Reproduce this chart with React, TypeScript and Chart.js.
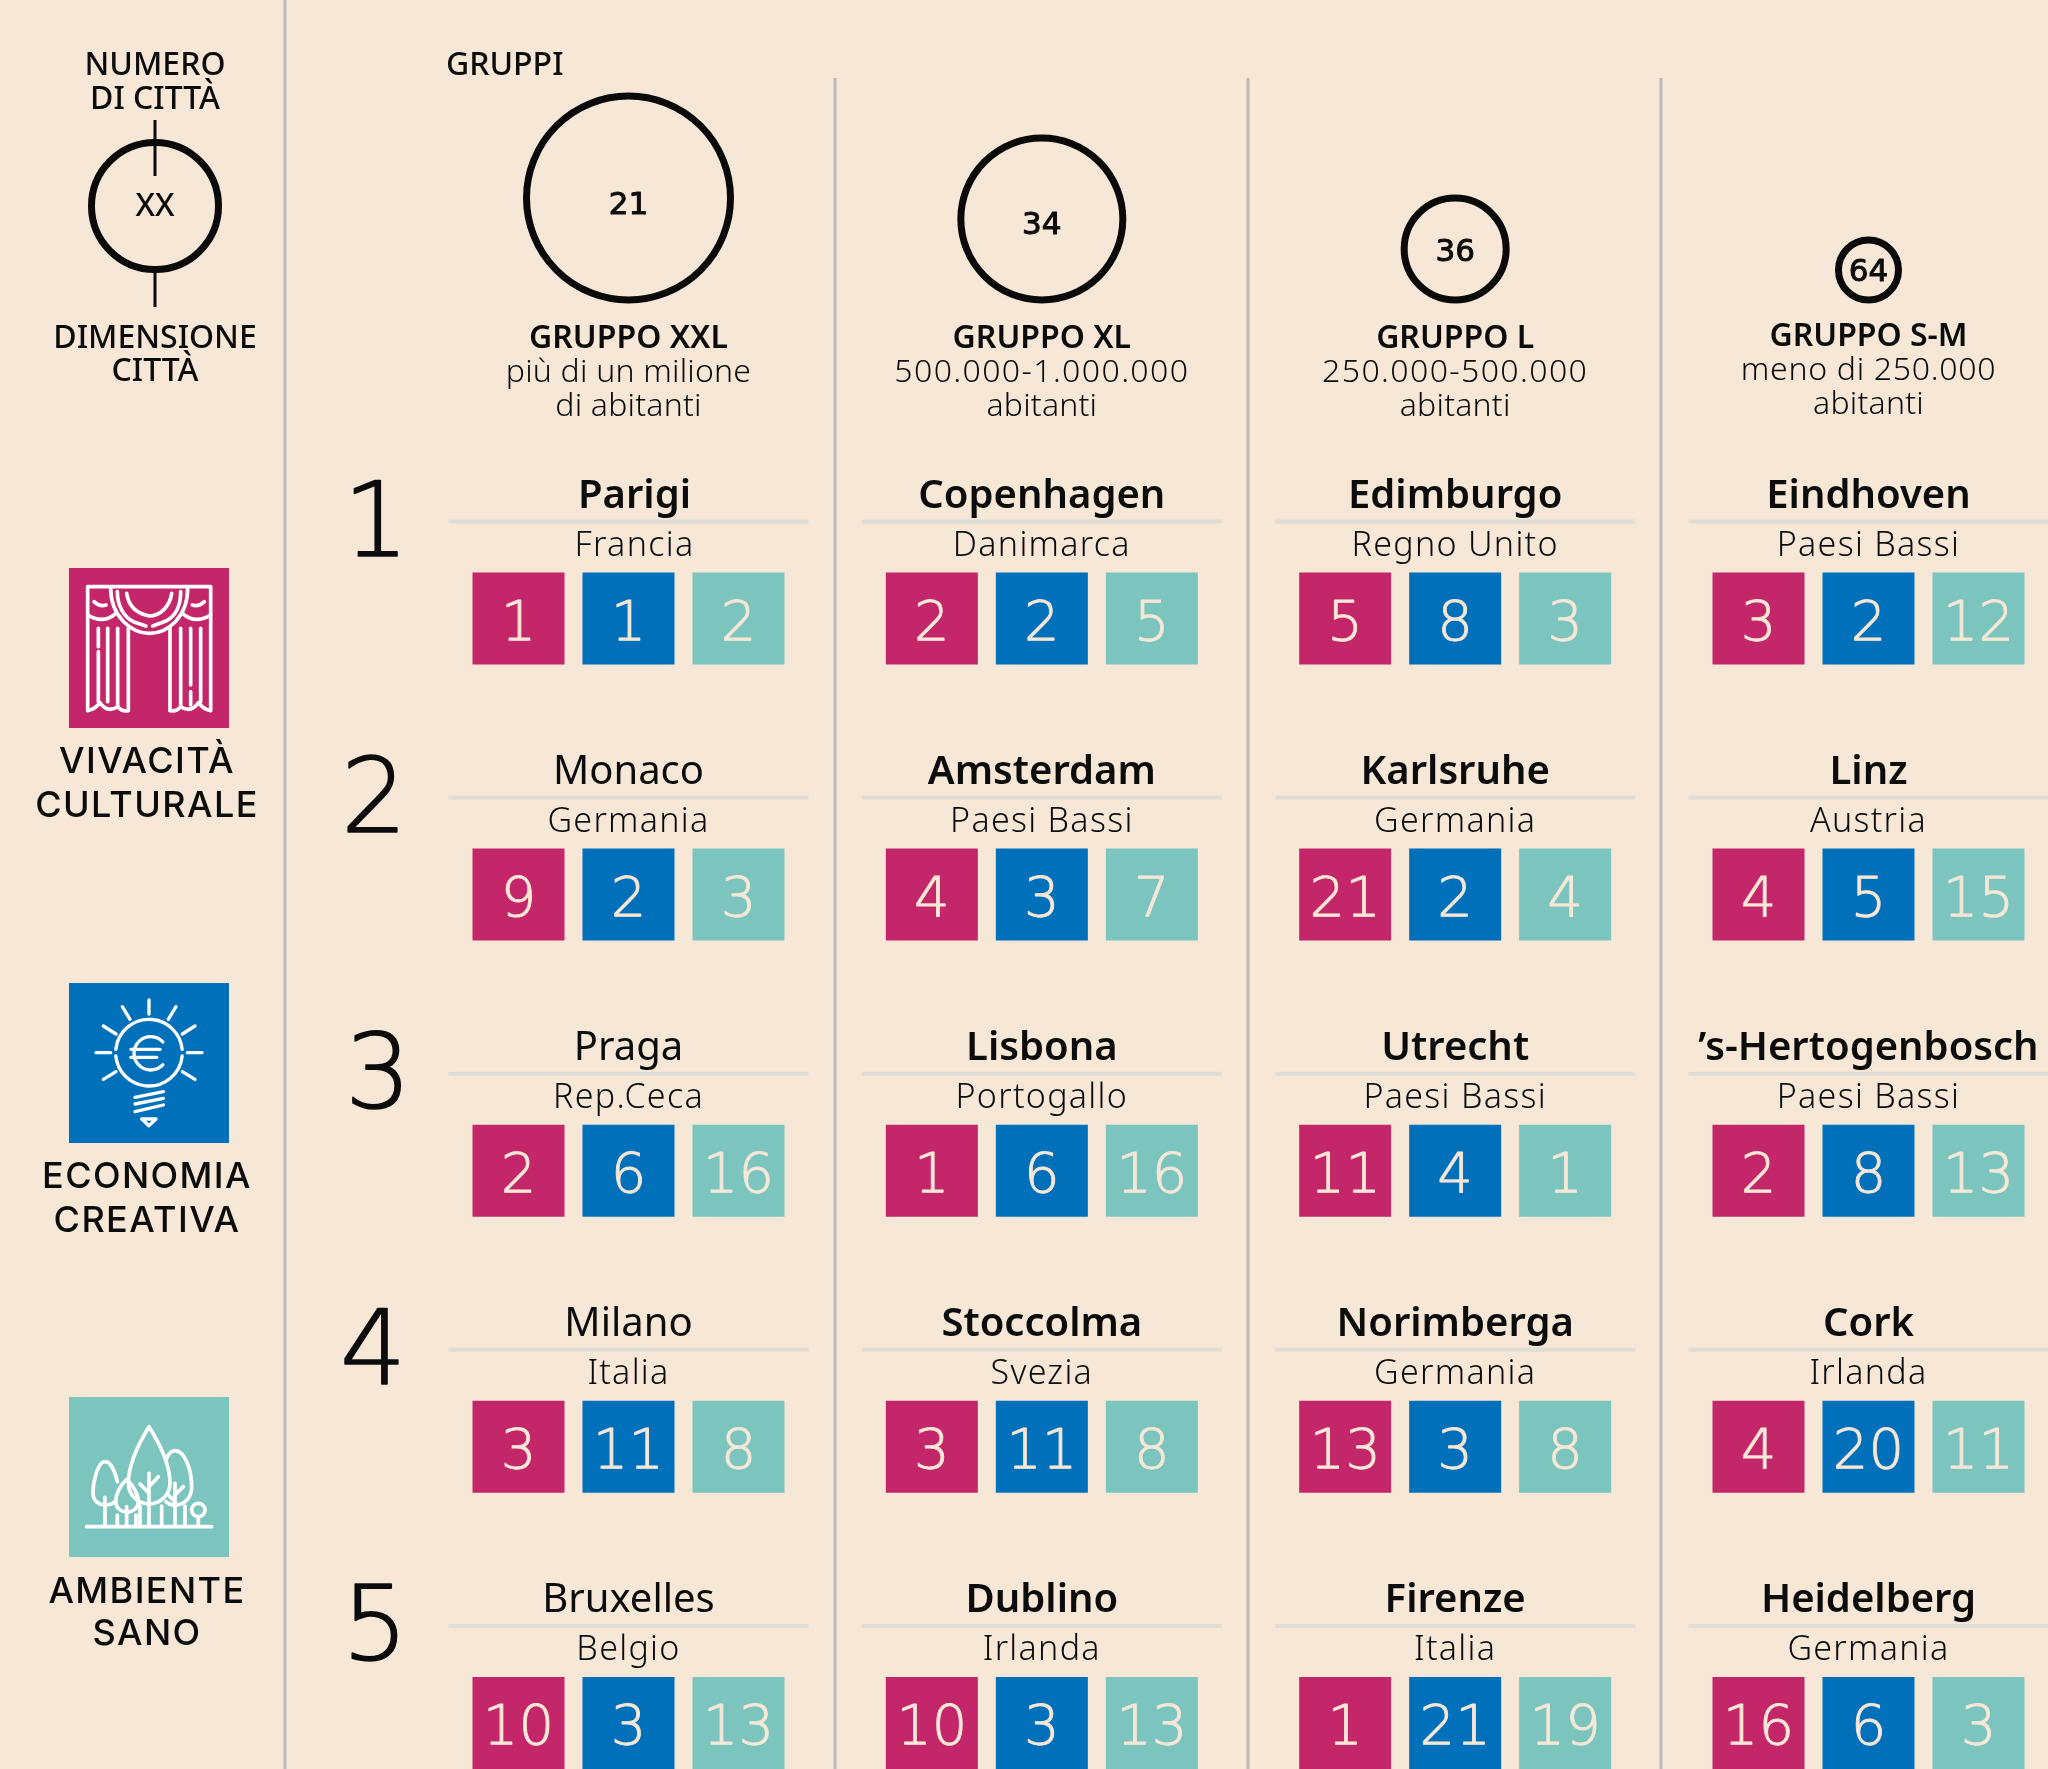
import React, { useEffect, useRef } from "react";
import { Chart, registerables } from "chart.js";

Chart.register(...registerables);

const groups = ["GRUPPO XXL", "GRUPPO XL", "GRUPPO L", "GRUPPO S-M"];
const groupSub1 = ["più di un milione", "500.000-1.000.000", "250.000-500.000", "meno di 250.000"];
const groupSub2 = ["di abitanti", "abitanti", "abitanti", "abitanti"];
const groupCityCounts = [21, 34, 36, 64];
const ranks = [1, 2, 3, 4, 5];

const cities = [
  ["Parigi", "Copenhagen", "Edimburgo", "Eindhoven"],
  ["Monaco", "Amsterdam", "Karlsruhe", "Linz"],
  ["Praga", "Lisbona", "Utrecht", "’s-Hertogenbosch"],
  ["Milano", "Stoccolma", "Norimberga", "Cork"],
  ["Bruxelles", "Dublino", "Firenze", "Heidelberg"],
];
const countries = [
  ["Francia", "Danimarca", "Regno Unito", "Paesi Bassi"],
  ["Germania", "Paesi Bassi", "Germania", "Austria"],
  ["Rep.Ceca", "Portogallo", "Paesi Bassi", "Paesi Bassi"],
  ["Italia", "Svezia", "Germania", "Irlanda"],
  ["Belgio", "Irlanda", "Italia", "Germania"],
];
const culture = [
  [1, 2, 5, 3],
  [9, 4, 21, 4],
  [2, 1, 11, 2],
  [3, 3, 13, 4],
  [10, 10, 1, 16],
];
const economy = [
  [1, 2, 8, 2],
  [2, 3, 2, 5],
  [6, 6, 4, 8],
  [11, 11, 3, 20],
  [3, 3, 21, 6],
];
const environment = [
  [2, 5, 3, 12],
  [3, 7, 4, 15],
  [16, 16, 1, 13],
  [8, 8, 8, 11],
  [13, 13, 19, 3],
];

// layout
const W = 2048;
const H = 1769;
const COL = 413.33;
const ROW = 276.1;
const X0 = 628.5;
const Y0 = 618.5;
const SLOT = 110 / COL;
const BG = "#f6e7d7";
const PINK = "#c3276a";
const BLUE = "#0070bb";
const TEAL = "#7bc5be";
const INK = "#0c0c0c";
const NUM = "#f6e7d7";
const CIRCLE_R = [102, 81, 51, 30];
const CIRCLE_BOTTOM = 300;
const CIRCLE_LABEL_BASE = [214, 234, 261, 281];
const SUB_SPACING = [0.2, 1.4, 1.4, 0.7];
const RANK_X = [376, 374, 378, 373, 375];

const FONT_TEXT = "'Noto Sans'";
const FONT_SIDE = "Inter";
const FONT_NUM = "'DejaVu Sans'";

const grid = (rows: number[][], slot: number) =>
  rows.flatMap((row, r) => row.map((v, g) => ({ x: g + slot * SLOT, y: ranks[r], v })));

function stroke(ctx: CanvasRenderingContext2D, d: string) {
  ctx.stroke(new Path2D(d));
}

function curtain(ctx: CanvasRenderingContext2D) {
  ctx.save();
  ctx.translate(20, 550);
  ctx.scale(1 / 3, 1 / 3);
  ctx.strokeStyle = "#fff";
  ctx.lineWidth = 11;
  ctx.lineCap = "round";
  ctx.lineJoin = "round";
  const parts = [
    "M203,480 L203,110 L572,110 L572,480",
    "M272,115 C272,200 335,250 388,250 C445,250 503,200 503,115",
    "M292,125 C292,165 310,200 340,215 L378,228",
    "M398,228 L440,212 C470,195 482,165 482,125",
    "M320,130 C325,165 345,190 388,198 C420,198 450,170 455,130",
    "M203,195 C235,215 265,210 288,190",
    "M572,195 C540,215 510,210 487,190",
    "M222,155 Q240,172 258,165",
    "M553,155 Q535,172 517,165",
    "M325,235 L325,480",
    "M450,235 L450,480",
    "M235,235 L235,290 M235,305 L235,455",
    "M263,235 L263,455",
    "M293,235 L293,470",
    "M482,235 L482,470",
    "M512,235 L512,405 M512,425 L512,465",
    "M542,235 L542,455",
    "M203,482 Q225,478 240,458 Q262,490 293,470 Q305,486 325,482",
    "M572,482 Q550,478 535,458 Q513,490 482,470 Q470,486 450,482",
  ];
  parts.forEach((p) => stroke(ctx, p));
  ctx.restore();
}

function bulb(ctx: CanvasRenderingContext2D) {
  ctx.save();
  ctx.translate(20, 970);
  ctx.scale(1 / 3, 1 / 3);
  ctx.strokeStyle = "#fff";
  ctx.lineWidth = 10;
  ctx.lineCap = "round";
  ctx.lineJoin = "round";
  [
    "M387,90 L387,132",
    "M307,110 L330,148",
    "M468,110 L445,148",
    "M250,168 L288,192",
    "M525,168 L487,192",
    "M228,248 L272,248",
    "M502,248 L546,248",
    "M250,328 L288,305",
    "M525,328 L487,305",
    "M345,382 L430,365",
    "M345,402 L430,385",
    "M345,425 L430,405",
    "M365,447 L408,447 L387,467 Z",
    "M333,238 L420,238",
    "M333,262 L410,262",
  ].forEach((p) => stroke(ctx, p));
  ctx.beginPath();
  ctx.arc(387, 248, 100, -Math.PI + 0.1, -0.1);
  ctx.stroke();
  ctx.beginPath();
  ctx.arc(387, 248, 100, 0.1, Math.PI - 0.1);
  ctx.stroke();
  ctx.beginPath();
  ctx.arc(392, 250, 50, -0.75, 0.75, true);
  ctx.stroke();
  ctx.restore();
}

function trees(ctx: CanvasRenderingContext2D) {
  ctx.save();
  ctx.translate(20, 1380);
  ctx.scale(1 / 3, 1 / 3);
  ctx.strokeStyle = "#fff";
  ctx.lineWidth = 11;
  ctx.lineCap = "round";
  ctx.lineJoin = "round";
  [
    "M200,440 L575,440",
    "M387,140 C350,200 325,260 325,310 C325,345 355,372 387,372 C420,372 450,345 450,310 C450,260 425,200 387,140 Z",
    "M387,280 L387,435 M360,312 L387,340 M415,290 L387,320",
    "M255,245 C235,245 219,300 219,340 C219,365 240,375 255,375 C268,375 280,372 288,362 M255,245 C272,245 285,275 292,305",
    "M255,352 L255,435",
    "M320,298 C300,315 287,345 287,365 C287,385 305,396 320,396 C338,396 355,385 355,365 C355,345 340,315 320,298 Z",
    "M320,380 L320,435",
    "M438,240 C445,220 455,212 465,212 C495,212 515,270 515,320 C515,352 495,375 465,375 C455,375 445,372 438,365",
    "M465,310 L465,435 M445,345 L465,365 M490,320 L465,345",
    "M292,405 L292,435 M348,405 L348,435 M360,378 L360,435 M425,378 L425,435 M495,378 L495,435",
    "M535,410 L535,438",
  ].forEach((p) => stroke(ctx, p));
  ctx.beginPath();
  ctx.arc(535, 390, 20, 0, Math.PI * 2);
  ctx.stroke();
  ctx.restore();
}

const artPlugin = {
  id: "art",
  beforeDatasetsDraw(chart: any) {
    const { ctx } = chart;
    const xs = chart.scales.x;
    const ys = chart.scales.y;
    ctx.save();
    // separators
    ctx.strokeStyle = "#b9b9b5";
    ctx.lineWidth = 3;
    [[285, 0], [835, 78], [1248, 78], [1661, 78]].forEach(([x, top]) => {
      ctx.beginPath();
      ctx.moveTo(x, top);
      ctx.lineTo(x, H);
      ctx.stroke();
    });
    // city rules
    ctx.strokeStyle = "#e0ddd6";
    ctx.lineWidth = 4;
    ranks.forEach((rk) => {
      groups.forEach((_, g) => {
        const cx = xs.getPixelForValue(g);
        const y = ys.getPixelForValue(rk) - 97;
        ctx.beginPath();
        ctx.moveTo(cx - 180, y);
        ctx.lineTo(cx + 180, y);
        ctx.stroke();
      });
    });
    // icon tiles
    ctx.fillStyle = PINK;
    ctx.fillRect(69, 568, 160, 160);
    ctx.fillStyle = BLUE;
    ctx.fillRect(69, 983, 160, 160);
    ctx.fillStyle = TEAL;
    ctx.fillRect(69, 1397, 160, 160);
    curtain(ctx);
    bulb(ctx);
    trees(ctx);
    // legend key
    ctx.strokeStyle = "#0a0a0a";
    ctx.lineWidth = 7;
    ctx.beginPath();
    ctx.arc(155, 206, 63.5, 0, Math.PI * 2);
    ctx.stroke();
    ctx.lineWidth = 3;
    ctx.beginPath();
    ctx.moveTo(155, 120);
    ctx.lineTo(155, 176);
    ctx.moveTo(155, 272);
    ctx.lineTo(155, 307);
    ctx.stroke();
    ctx.restore();
  },
  afterDatasetsDraw(chart: any) {
    const { ctx } = chart;
    const xs = chart.scales.x;
    const ys = chart.scales.y;
    ctx.save();
    ctx.textAlign = "center";
    ctx.textBaseline = "alphabetic";
    ctx.lineJoin = "round";
    const t = (s: string, x: number, y: number, font: string, color = INK, spacing = 0, heavy = 0) => {
      ctx.font = font;
      ctx.fillStyle = color;
      (ctx as any).letterSpacing = `${spacing}px`;
      ctx.fillText(s, x, y);
      if (heavy > 0) {
        ctx.strokeStyle = color;
        ctx.lineWidth = heavy;
        ctx.strokeText(s, x, y);
      }
    };
    const head = `500 32px ${FONT_TEXT}`;
    t("NUMERO", 155, 75, head);
    t("DI CITTÀ", 155, 109, head);
    t("DIMENSIONE", 155, 348, head);
    t("CITTÀ", 155, 381, head);
    t("XX", 155, 216, `500 32px ${FONT_TEXT}`);
    ctx.textAlign = "left";
    t("GRUPPI", 446, 75, head);
    ctx.textAlign = "center";

    const side = `500 36px ${FONT_SIDE}`;
    t("VIVACITÀ", 147, 773, side, INK, 1.4);
    t("CULTURALE", 147, 817, side, INK, 1.4);
    t("ECONOMIA", 147, 1188, side, INK, 1.4);
    t("CREATIVA", 147, 1232, side, INK, 1.4);
    t("AMBIENTE", 147, 1603, side, INK, 1.4);
    t("SANO", 147, 1645, side, INK, 1.4);

    groups.forEach((g, i) => {
      const cx = xs.getPixelForValue(i);
      const dy = i === 3 ? -2 : 0;
      t(g, cx, 348 + dy, `600 32px ${FONT_TEXT}`);
      t(groupSub1[i], cx, 382 + dy, `300 32px ${FONT_TEXT}`, INK, SUB_SPACING[i]);
      t(groupSub2[i], cx, 416 + dy, `300 32px ${FONT_TEXT}`, INK, 0.2);
      t(String(groupCityCounts[i]), cx, CIRCLE_LABEL_BASE[i], `500 31px ${FONT_NUM}`, INK, 0, 1);
    });

    ranks.forEach((rk, r) => {
      const cy = ys.getPixelForValue(rk);
      t(String(rk), RANK_X[r], cy - 63, `200 104px ${FONT_NUM}`, INK, 0, 1.6);
      groups.forEach((_, g) => {
        const boost = r === 0 && g === 0 ? 6 : 0;
        const cx = xs.getPixelForValue(g) + boost;
        const weight = g === 0 && r > 0 ? 400 : 600;
        t(cities[r][g], cx, cy - 111, `${weight} 40px ${FONT_TEXT}`);
        t(countries[r][g], cx, cy - 62.5, `300 34px ${FONT_TEXT}`, INK, 1.3);
      });
    });

    chart.data.datasets.forEach((ds: any) => {
      if (ds.type === "bubble") return;
      ds.data.forEach((p: any) => {
        t(String(p.v), xs.getPixelForValue(p.x), ys.getPixelForValue(p.y) + 21, `200 56px ${FONT_NUM}`, NUM, 0, 0.9);
      });
    });
    ctx.restore();
  },
};

export default function App() {
  const ref = useRef<HTMLCanvasElement>(null);
  useEffect(() => {
    document.body.style.margin = "0";
    document.body.style.background = BG;
    const canvas = ref.current!;
    const xMin = -X0 / COL;
    const xMax = (W - X0) / COL;
    const yMin = 1 - Y0 / ROW;
    const yMax = 1 + (H - Y0) / ROW;
    const sq = (color: string, rows: number[][], slot: number) => ({
      type: "scatter" as const,
      data: grid(rows, slot),
      pointStyle: "rect",
      pointRadius: 92 / Math.SQRT2,
      pointBackgroundColor: color,
      pointBorderWidth: 0,
      clip: false,
    });
    const chart = new Chart(canvas, {
      type: "scatter",
      data: {
        datasets: [
          sq(PINK, culture, -1),
          sq(BLUE, economy, 0),
          sq(TEAL, environment, 1),
          {
            type: "bubble" as const,
            data: groupCityCounts.map((_, i) => ({
              x: i,
              y: 1 + (CIRCLE_BOTTOM - CIRCLE_R[i] - Y0) / ROW,
              r: CIRCLE_R[i],
            })),
            backgroundColor: "rgba(0,0,0,0)",
            borderColor: "#0a0a0a",
            borderWidth: 7,
            clip: false,
          } as any,
        ],
      },
      options: {
        responsive: false,
        animation: false,
        devicePixelRatio: 1,
        layout: { padding: 0, autoPadding: false },
        events: [],
        plugins: { legend: { display: false }, tooltip: { enabled: false }, title: { display: false } },
        scales: {
          x: { type: "linear", min: xMin, max: xMax, display: false },
          y: { type: "linear", min: yMin, max: yMax, reverse: true, display: false },
        },
      },
      plugins: [artPlugin],
    } as any);
    return () => chart.destroy();
  }, []);
  return <canvas ref={ref} width={W} height={H} style={{ display: "block", width: W, height: H, background: BG }} />;
}
